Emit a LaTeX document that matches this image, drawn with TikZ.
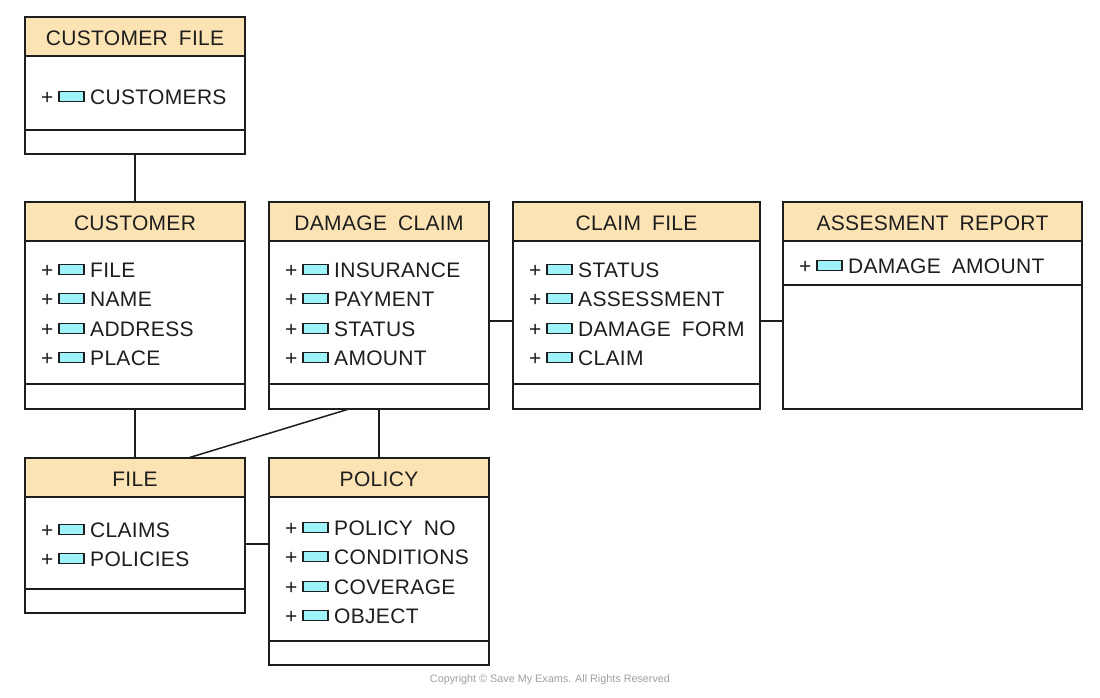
\documentclass[tikz,border=0pt]{standalone}
\usepackage{fontspec}
\setmainfont{Liberation Sans}
\newfontfamily\umlfont[LetterSpace=1.5,WordSpace=1.8]{Liberation Sans}
\definecolor{hdr}{HTML}{FCE3B4}
\definecolor{icn}{HTML}{9EF3FA}
\definecolor{ink}{HTML}{1E1E1E}
\definecolor{cpy}{HTML}{A0A0A0}
\newcount\attrn
\newcommand\umlclass[8]{%
  \fill[hdr] (#2,#3) rectangle (#4,#6);
  \draw[ink, line width=1.5pt] (#2,#6) -- (#4,#6);
  \draw[ink, line width=1.5pt] (#2,#7) -- (#4,#7);
  \node[cls, minimum width={(#4-#2)*1pt}, minimum height={(#5-#3)*1pt}, anchor=north west] (#1) at (#2,#3) {};
  \node[txt, anchor=base] (#1t) at ({(#2+#4)/2},#3+28) {#8};
}
\newcommand\attr[3]{%
  \global\advance\attrn by 1
  \node[txt, anchor=base west] (p\the\attrn) at (#1,#2+9) {+};
  \draw[icon] (#1+18,#2-3.5) rectangle (#1+43,#2+6.5);
  \node[txt, anchor=base west] (a\the\attrn) at (#1+49,#2+9) {#3};
}
\begin{document}
\begin{tikzpicture}[x=1pt,y=-1pt,
  cls/.style={draw=ink, line width=1.5pt, inner sep=0pt, outer sep=0pt},
  txt/.style={inner sep=0pt, text=ink, font=\umlfont\fontsize{21}{25}\selectfont},
  icon/.style={draw=ink, fill=icn, line width=1.3pt},
  conn/.style={draw=ink, line width=1.5pt}]
\useasboundingbox[fill=white] (0,0) rectangle (1100,697);
% classes
\umlclass{cf}{25}{17}{245}{154}{56}{130}{CUSTOMER FILE}
\attr{41}{95}{CUSTOMERS}
\umlclass{cu}{25}{202}{245}{409}{241}{384}{CUSTOMER}
\attr{41}{268}{FILE}
\attr{41}{297}{NAME}
\attr{41}{327}{ADDRESS}
\attr{41}{356}{PLACE}
\umlclass{dc}{269}{202}{489}{409}{241}{384}{DAMAGE CLAIM}
\attr{285}{268}{INSURANCE}
\attr{285}{297}{PAYMENT}
\attr{285}{327}{STATUS}
\attr{285}{356}{AMOUNT}
\umlclass{cl}{513}{202}{760}{409}{241}{384}{CLAIM FILE}
\attr{529}{268}{STATUS}
\attr{529}{297}{ASSESSMENT}
\attr{529}{327}{DAMAGE FORM}
\attr{529}{356}{CLAIM}
\umlclass{ar}{783}{202}{1082}{409}{241}{285}{ASSESMENT REPORT}
\attr{799}{264}{DAMAGE AMOUNT}
\umlclass{fi}{25}{458}{245}{613}{497}{589}{FILE}
\attr{41}{528}{CLAIMS}
\attr{41}{557}{POLICIES}
\umlclass{po}{269}{458}{489}{665}{497}{641}{POLICY}
\attr{285}{526}{POLICY NO}
\attr{285}{555}{CONDITIONS}
\attr{285}{585}{COVERAGE}
\attr{285}{614}{OBJECT}
% connectors
\draw[conn] (cf.south) -- (cu.north);
\draw[conn] (cu.south) -- (fi.north);
\draw[conn] ([xshift=-30pt]dc.south) -- ([xshift=53pt]fi.north);
\draw[conn] (dc.south) -- (po.north);
\draw[conn] ([yshift=-15.5pt]dc.east) -- ([yshift=-15.5pt]cl.west);
\draw[conn] ([yshift=-15.5pt]cl.east) -- ([yshift=-15.5pt]ar.west);
\draw[conn] ([yshift=-8.5pt]fi.east) -- ([yshift=17.5pt]po.west);
% copyright
\node[inner sep=0pt, text=cpy, font=\fontsize{10.8}{13}\selectfont] (copy) at (550,680) {Copyright © Save My Exams. All Rights Reserved};
\end{tikzpicture}
\end{document}
